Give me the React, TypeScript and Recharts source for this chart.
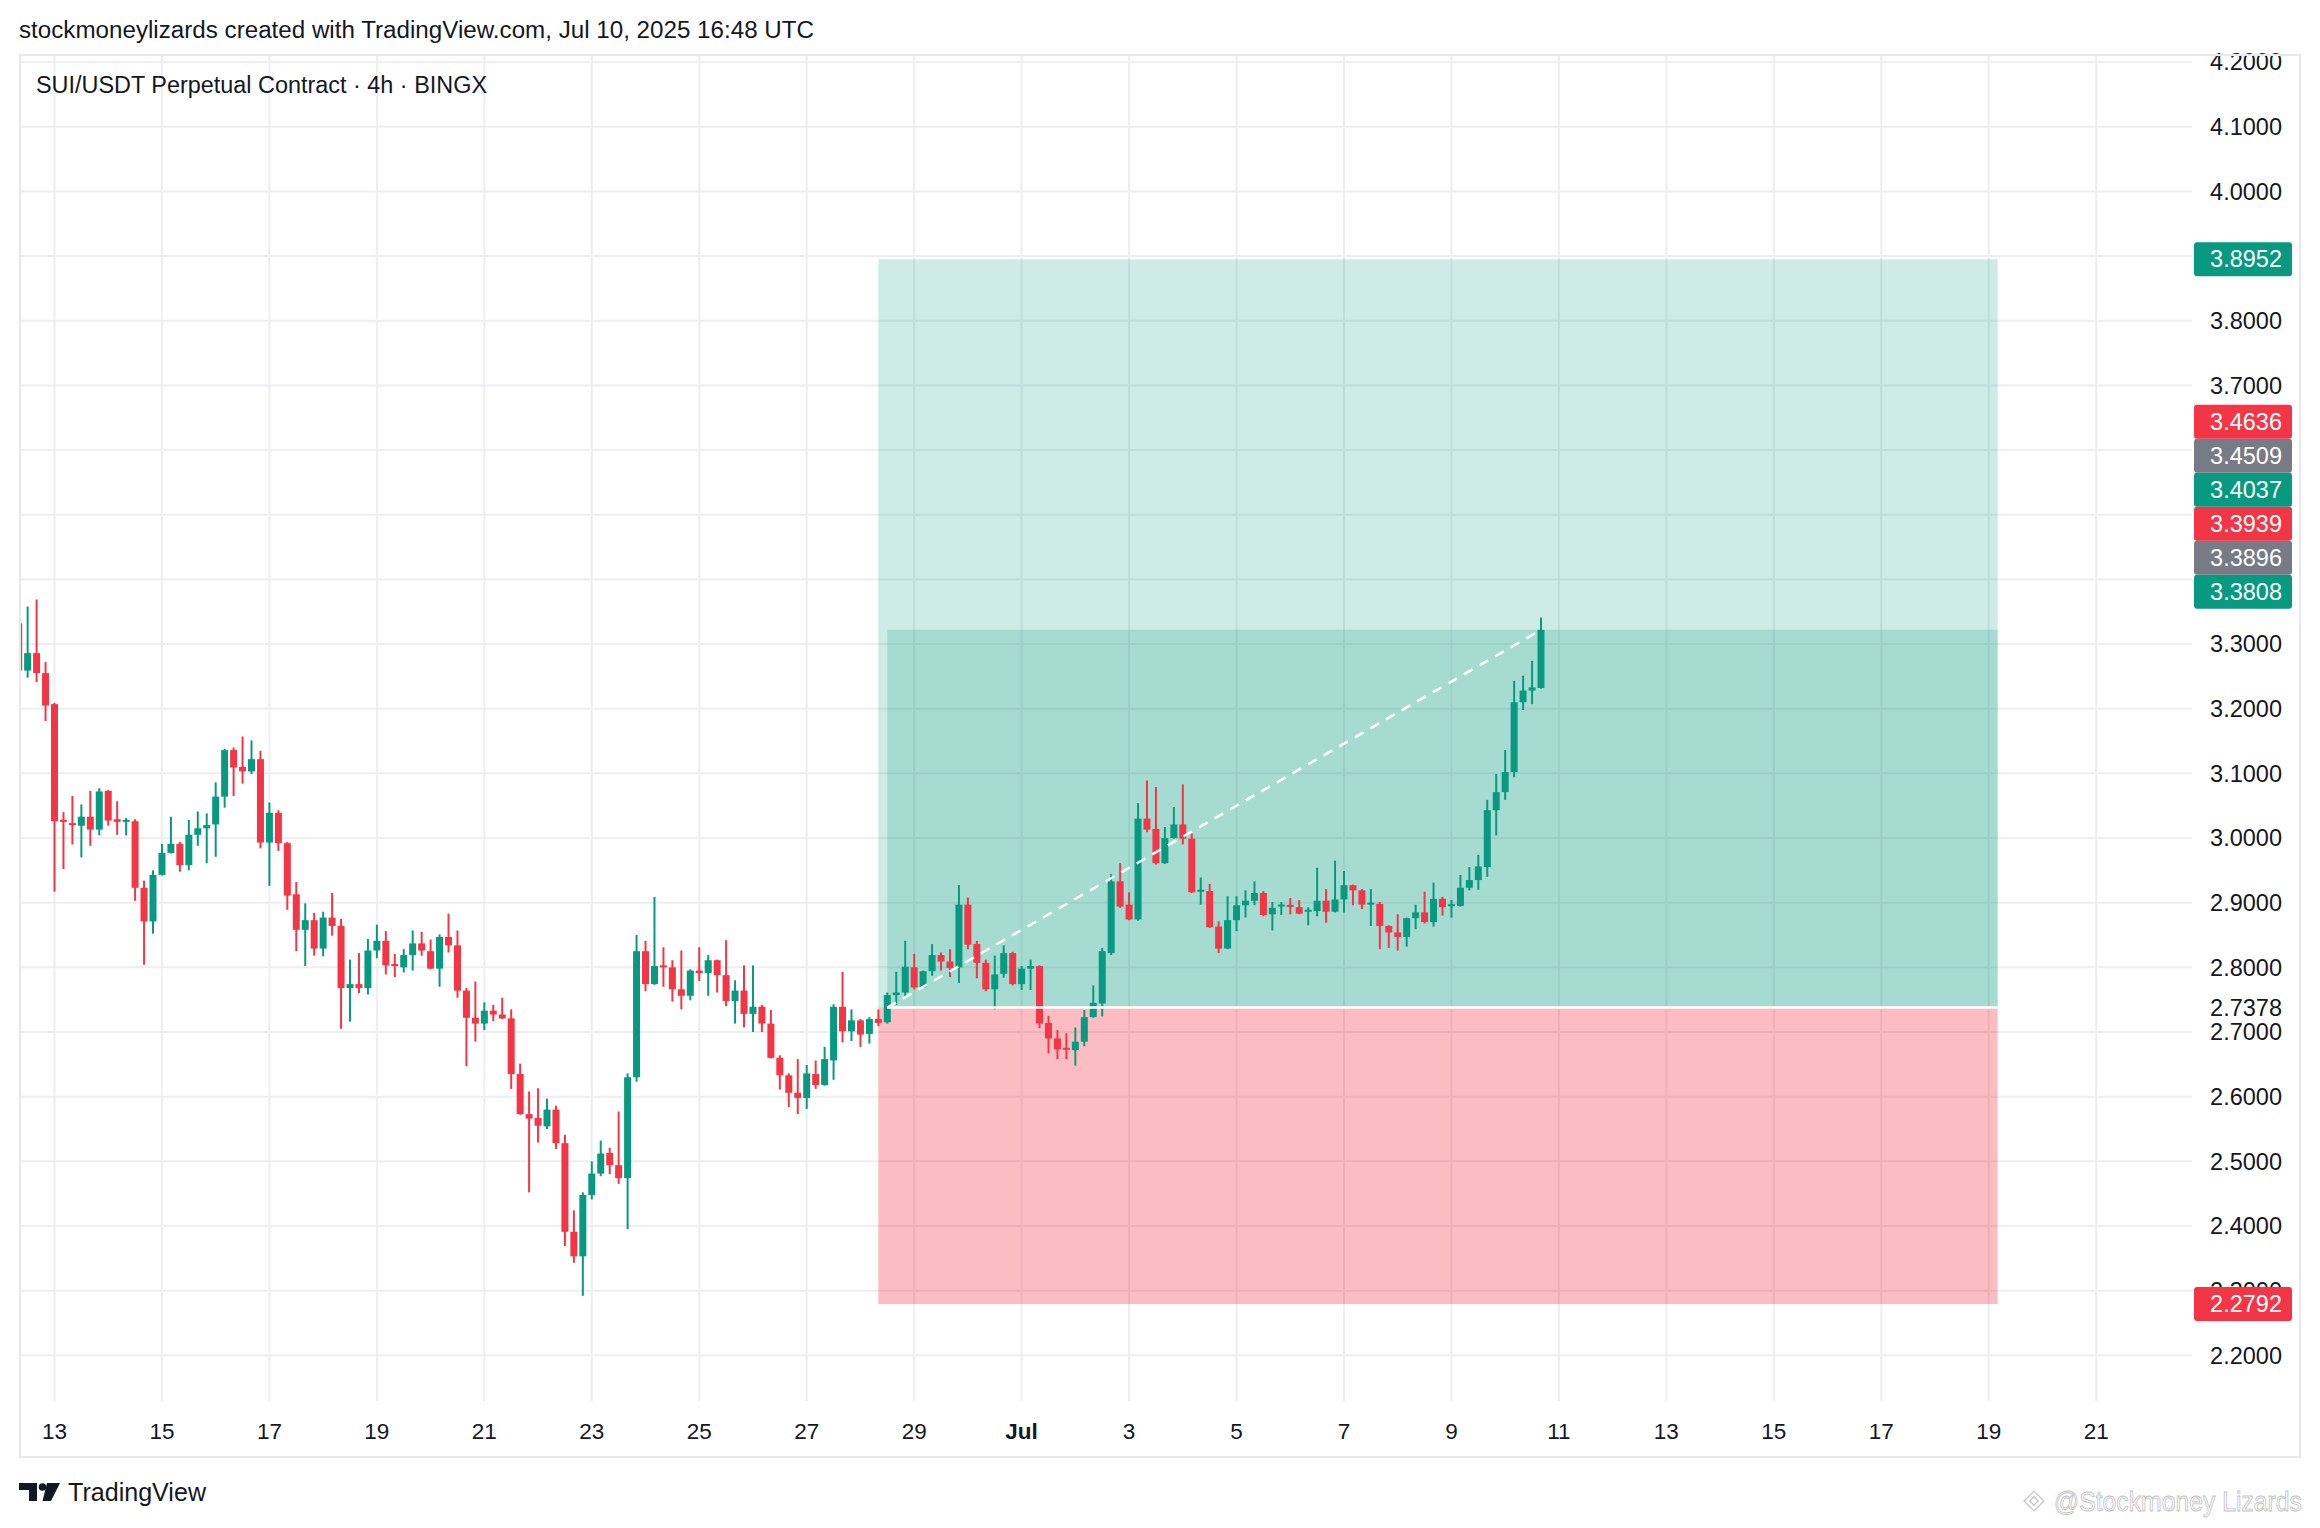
import React from 'react';
import {
  ComposedChart,
  Bar,
  XAxis,
  YAxis,
  CartesianGrid,
  ReferenceArea,
  ReferenceLine,
} from 'recharts';

// ---- 4h candles of SUI/USDT, first candle Jun 12 2025 08:00 UTC, last Jul 10 16:00 UTC ----
const opens = [
  3.332, 3.259, 3.286, 3.255, 3.207, 3.028, 3.023, 3.019, 3.033, 3.013,
  3.073, 3.029, 3.025, 3.026, 2.923, 2.871, 2.943, 2.977, 2.991, 2.958,
  3.005, 3.015, 3.021, 3.064, 3.136, 3.110, 3.103, 3.122, 2.993, 3.039,
  2.992, 2.913, 2.858, 2.873, 2.829, 2.877, 2.864, 2.768, 2.774, 2.768,
  2.826, 2.841, 2.805, 2.800, 2.819, 2.837, 2.825, 2.798, 2.847, 2.834,
  2.764, 2.722, 2.713, 2.733, 2.727, 2.721, 2.635, 2.573, 2.567, 2.554,
  2.580, 2.528, 2.391, 2.353, 2.448, 2.481, 2.513, 2.494, 2.474, 2.630,
  2.825, 2.774, 2.803, 2.800, 2.766, 2.756, 2.795, 2.791, 2.811, 2.788,
  2.748, 2.764, 2.728, 2.739, 2.713, 2.660, 2.633, 2.606, 2.598, 2.635,
  2.618, 2.656, 2.739, 2.701, 2.718, 2.697, 2.720, 2.715, 2.757, 2.761,
  2.800, 2.769, 2.794, 2.819, 2.809, 2.800, 2.897, 2.836, 2.807, 2.766,
  2.790, 2.822, 2.774, 2.798, 2.802, 2.714, 2.690, 2.675, 2.672, 2.685,
  2.723, 2.744, 2.822, 2.933, 2.897, 2.874, 3.030, 3.014, 2.961, 3.000,
  3.021, 2.999, 2.918, 2.918, 2.863, 2.829, 2.873, 2.896, 2.903, 2.915,
  2.882, 2.895, 2.896, 2.893, 2.887, 2.887, 2.903, 2.886, 2.905, 2.927,
  2.919, 2.897, 2.898, 2.864, 2.854, 2.847, 2.876, 2.885, 2.870, 2.906,
  2.895, 2.895, 2.923, 2.935, 2.955, 3.043, 3.071, 3.102, 3.210, 3.228,
  3.232,
];
const highs = [
  3.342, 3.358, 3.369, 3.272, 3.209, 3.040, 3.065, 3.052, 3.073, 3.077,
  3.074, 3.057, 3.031, 3.029, 2.934, 2.950, 2.991, 3.033, 2.994, 3.028,
  3.041, 3.038, 3.086, 3.138, 3.140, 3.157, 3.151, 3.135, 3.055, 3.043,
  2.994, 2.932, 2.899, 2.884, 2.886, 2.915, 2.875, 2.812, 2.822, 2.844,
  2.866, 2.856, 2.821, 2.828, 2.857, 2.855, 2.843, 2.851, 2.883, 2.857,
  2.768, 2.778, 2.746, 2.742, 2.753, 2.735, 2.651, 2.608, 2.613, 2.597,
  2.586, 2.541, 2.424, 2.452, 2.500, 2.532, 2.521, 2.577, 2.636, 2.850,
  2.841, 2.909, 2.831, 2.811, 2.826, 2.797, 2.831, 2.819, 2.812, 2.842,
  2.780, 2.803, 2.803, 2.742, 2.734, 2.664, 2.636, 2.658, 2.649, 2.656,
  2.677, 2.743, 2.793, 2.735, 2.720, 2.723, 2.735, 2.761, 2.793, 2.841,
  2.821, 2.795, 2.836, 2.823, 2.828, 2.927, 2.908, 2.841, 2.812, 2.818,
  2.834, 2.824, 2.802, 2.812, 2.803, 2.725, 2.703, 2.698, 2.707, 2.734,
  2.772, 2.830, 2.944, 2.961, 2.916, 3.054, 3.089, 3.079, 3.017, 3.048,
  3.083, 3.007, 2.939, 2.929, 2.871, 2.910, 2.910, 2.919, 2.933, 2.918,
  2.901, 2.901, 2.907, 2.904, 2.893, 2.954, 2.921, 2.965, 2.949, 2.928,
  2.921, 2.921, 2.901, 2.865, 2.882, 2.877, 2.897, 2.917, 2.931, 2.909,
  2.904, 2.943, 2.955, 2.974, 3.059, 3.099, 3.136, 3.243, 3.251, 3.274,
  3.341,
];
const lows = [
  3.251, 3.248, 3.241, 3.181, 2.917, 2.952, 2.990, 2.970, 2.988, 3.004,
  3.019, 3.005, 3.004, 2.903, 2.804, 2.852, 2.942, 2.976, 2.948, 2.950,
  2.988, 2.961, 2.971, 3.047, 3.065, 3.084, 3.099, 2.984, 2.926, 2.980,
  2.889, 2.825, 2.802, 2.818, 2.817, 2.849, 2.705, 2.716, 2.760, 2.758,
  2.814, 2.789, 2.785, 2.792, 2.795, 2.818, 2.797, 2.770, 2.823, 2.753,
  2.647, 2.685, 2.703, 2.717, 2.720, 2.612, 2.572, 2.452, 2.529, 2.550,
  2.519, 2.369, 2.343, 2.292, 2.441, 2.477, 2.480, 2.465, 2.395, 2.623,
  2.763, 2.773, 2.770, 2.747, 2.735, 2.749, 2.779, 2.756, 2.761, 2.740,
  2.713, 2.707, 2.700, 2.700, 2.659, 2.611, 2.584, 2.573, 2.581, 2.612,
  2.617, 2.626, 2.684, 2.686, 2.677, 2.682, 2.709, 2.713, 2.742, 2.752,
  2.766, 2.768, 2.787, 2.795, 2.785, 2.776, 2.828, 2.783, 2.763, 2.735,
  2.784, 2.772, 2.765, 2.765, 2.706, 2.667, 2.658, 2.658, 2.648, 2.678,
  2.722, 2.724, 2.819, 2.892, 2.873, 2.872, 3.009, 2.959, 2.960, 2.999,
  2.990, 2.915, 2.897, 2.861, 2.822, 2.828, 2.856, 2.877, 2.896, 2.879,
  2.857, 2.881, 2.882, 2.882, 2.865, 2.879, 2.869, 2.885, 2.885, 2.896,
  2.890, 2.864, 2.828, 2.830, 2.826, 2.832, 2.859, 2.868, 2.863, 2.880,
  2.877, 2.894, 2.919, 2.920, 2.940, 3.004, 3.059, 3.094, 3.198, 3.207,
  3.231,
];
const closes = [
  3.259, 3.286, 3.255, 3.205, 3.026, 3.025, 3.020, 3.033, 3.013, 3.072,
  3.027, 3.025, 3.028, 2.923, 2.871, 2.943, 2.977, 2.991, 2.958, 3.005,
  3.015, 3.020, 3.064, 3.136, 3.109, 3.103, 3.122, 2.993, 3.039, 2.992,
  2.911, 2.858, 2.873, 2.829, 2.877, 2.864, 2.768, 2.774, 2.768, 2.826,
  2.841, 2.803, 2.802, 2.819, 2.837, 2.826, 2.798, 2.847, 2.834, 2.764,
  2.722, 2.713, 2.733, 2.727, 2.721, 2.635, 2.573, 2.566, 2.555, 2.580,
  2.528, 2.391, 2.353, 2.448, 2.481, 2.512, 2.494, 2.474, 2.630, 2.825,
  2.774, 2.802, 2.800, 2.766, 2.756, 2.795, 2.791, 2.811, 2.788, 2.748,
  2.764, 2.728, 2.739, 2.713, 2.660, 2.633, 2.606, 2.598, 2.636, 2.618,
  2.658, 2.739, 2.701, 2.718, 2.696, 2.720, 2.714, 2.757, 2.761, 2.801,
  2.769, 2.794, 2.819, 2.809, 2.799, 2.897, 2.835, 2.807, 2.766, 2.789,
  2.822, 2.774, 2.798, 2.802, 2.713, 2.690, 2.673, 2.673, 2.685, 2.723,
  2.745, 2.825, 2.933, 2.894, 2.874, 3.030, 3.013, 2.961, 3.000, 3.021,
  2.999, 2.916, 2.919, 2.862, 2.829, 2.873, 2.896, 2.903, 2.915, 2.881,
  2.892, 2.896, 2.894, 2.883, 2.888, 2.903, 2.886, 2.905, 2.927, 2.919,
  2.897, 2.900, 2.864, 2.854, 2.847, 2.876, 2.885, 2.870, 2.906, 2.893,
  2.897, 2.923, 2.935, 2.956, 3.043, 3.071, 3.102, 3.210, 3.228, 3.233,
  3.322,
];

// x axis: candle index of each labelled midnight (every 2 days) and its label
const dayTickIndex = [4, 16, 28, 40, 52, 64, 76, 88, 100, 112, 124, 136, 148, 160, 172, 184, 196, 208, 220, 232];
const dayTickLabels = ['13', '15', '17', '19', '21', '23', '25', '27', '29', 'Jul', '3', '5', '7', '9', '11', '13', '15', '17', '19', '21'];
// price grid, and the grid values whose labels the price tags cover
const priceTicks = [2.2, 2.3, 2.4, 2.5, 2.6, 2.7, 2.8, 2.9, 3.0, 3.1, 3.2, 3.3, 3.4, 3.5, 3.6, 3.7, 3.8, 3.9, 4.0, 4.1, 4.2];
const coveredPriceTicks = [3.4, 3.5, 3.6, 3.9];

// long position tool
const positionEntry = 2.7378;
const positionTarget = 3.8952;
const positionStop = 2.2792;
const positionStartIndex = 96;
const entryIndex = 97;
const positionEndIndex = 221;
const stackedTagValues = [3.3808, 3.3896, 3.3939, 3.4037, 3.4509, 3.4636];
const stackedTagKinds = ['green', 'gray', 'red', 'green', 'gray', 'red'];

const GREEN = '#089981';
const RED = '#f23645';
const GRAY = '#787b86';
const TEXT = '#131722';
const KIND_COLOR: Record<string, string> = { green: GREEN, red: RED, gray: GRAY };
const FONT = '"Liberation Sans", Arial, sans-serif';
const TAG_H = 34;

const candles = opens.map((o, i) => ({
  i,
  open: o,
  high: highs[i],
  low: lows[i],
  close: closes[i],
  range: [lows[i], highs[i]],
}));
const lastClose = closes[closes.length - 1];

// price-axis tags: anchor value -> the stack of tags drawn upward from it
const tagGroups = [
  { anchor: positionTarget, values: [positionTarget], kinds: ['green'] },
  { anchor: positionEntry, values: [positionEntry], kinds: [''] },
  { anchor: positionStop, values: [positionStop], kinds: ['red'] },
  { anchor: stackedTagValues[0], values: stackedTagValues, kinds: stackedTagKinds },
];
// tags are listed after the plain ticks so they are drawn on top of them
const yAxisTicks = [
  ...priceTicks.filter((t) => !coveredPriceTicks.includes(t)),
  ...tagGroups.map((g) => g.anchor),
];

const CandleShape = (props: any) => {
  const { x, y, width, height, payload } = props;
  if (!payload || x == null || y == null) return null;
  const { open, close, high, low } = payload;
  const top = Math.min(y, y + height);
  const bottom = Math.max(y, y + height);
  const span = high - low || 1;
  const py = (p: number) => top + ((high - p) / span) * (bottom - top);
  const color = close >= open ? GREEN : RED;
  const cx = x + width / 2;
  let bTop = py(Math.max(open, close));
  let bBot = py(Math.min(open, close));
  if (bBot - bTop < 2) {
    const m = (bTop + bBot) / 2;
    bTop = m - 1;
    bBot = m + 1;
  }
  return (
    <g>
      <line x1={cx} x2={cx} y1={top} y2={bottom} stroke={color} strokeWidth={2} />
      <rect x={x} y={bTop} width={width} height={bBot - bTop} fill={color} />
    </g>
  );
};

const XTick = (props: any) => {
  const { x, y, payload } = props;
  const k = dayTickIndex.indexOf(payload.value);
  const label = k >= 0 ? dayTickLabels[k] : '';
  return (
    <text x={x} y={y + 38} textAnchor="middle" fontSize={22.5} fill={TEXT} fontFamily={FONT}
      fontWeight={label === 'Jul' ? 700 : 400}>
      {label}
    </text>
  );
};

const YTick = (props: any) => {
  const { x, y, payload } = props;
  const v = Number(payload.value);
  const group = tagGroups.find((g) => g.anchor === v);
  if (!group) {
    return (
      <text x={x + 90} y={y + 8.3} textAnchor="end" fontSize={23.5} fill={TEXT} fontFamily={FONT}>
        {v.toFixed(4)}
      </text>
    );
  }
  return (
    <g>
      {group.values.map((tv, k) => {
        const cy = y - k * TAG_H;
        const kind = group.kinds[k];
        const color = kind ? KIND_COLOR[kind] : null;
        return (
          <g key={k}>
            {color && <rect x={x + 2} y={cy - TAG_H / 2} width={98} height={TAG_H} rx={3} fill={color} />}
            <text x={x + 90} y={cy + 8.3} textAnchor="end" fontSize={23.5}
              fill={color ? '#ffffff' : TEXT} fontFamily={FONT}>
              {tv.toFixed(4)}
            </text>
          </g>
        );
      })}
    </g>
  );
};

export default function App() {
  return (
    <div style={{ position: 'absolute', left: 0, top: 0, width: 2320, height: 1528, background: '#ffffff', fontFamily: FONT }}>
      <ComposedChart
        width={2320}
        height={1528}
        data={candles}
        margin={{ top: 55, left: 20, right: 20, bottom: 71 }}
      >
        <CartesianGrid stroke="#eeeef1" strokeWidth={2} horizontalValues={priceTicks} verticalValues={dayTickIndex} />
        <XAxis
          dataKey="i"
          type="number"
          domain={[0.15, 242.7]}
          ticks={dayTickIndex}
          allowDataOverflow
          axisLine={false}
          tickLine={false}
          tickSize={0}
          tickMargin={0}
          height={56}
          interval={0}
          tick={<XTick />}
        />
        <YAxis
          orientation="right"
          type="number"
          domain={[2.1293, 4.211]}
          ticks={yAxisTicks}
          allowDataOverflow
          axisLine={false}
          tickLine={false}
          tickSize={0}
          tickMargin={0}
          width={108}
          interval={0}
          tick={<YTick />}
        />
        <ReferenceArea x1={positionStartIndex} x2={positionEndIndex} y1={positionEntry} y2={positionTarget}
          fill="rgb(8,153,129)" fillOpacity={0.2} stroke="none" />
        <ReferenceArea x1={positionStartIndex} x2={positionEndIndex} y1={positionStop} y2={positionEntry}
          fill="rgb(242,54,69)" fillOpacity={0.33} stroke="none" />
        <ReferenceArea x1={entryIndex} x2={positionEndIndex} y1={positionEntry} y2={lastClose}
          fill="rgb(8,153,129)" fillOpacity={0.2} stroke="none" />
        <ReferenceLine
          segment={[{ x: entryIndex, y: positionEntry }, { x: positionEndIndex, y: positionEntry }]}
          stroke="#ffffff" strokeWidth={2.5}
        />
        <Bar dataKey="range" shape={CandleShape} barSize={7} isAnimationActive={false} />
        <ReferenceLine
          segment={[{ x: entryIndex, y: positionEntry }, { x: candles.length - 1, y: lastClose }]}
          stroke="#ffffff" strokeWidth={2.5} strokeDasharray="10 8"
        />
      </ComposedChart>
      <svg width={2320} height={1528} style={{ position: 'absolute', left: 0, top: 0, pointerEvents: 'none' }}>
        <rect x={20} y={55} width={2280} height={1402} fill="none" stroke="#e6e8ec" strokeWidth={2} />
        <text x={19} y={38} fontSize={23} fill={TEXT} fontFamily={FONT} textLength={795} lengthAdjust="spacingAndGlyphs">
          stockmoneylizards created with TradingView.com, Jul 10, 2025 16:48 UTC
        </text>
        <text x={36} y={92.5} fontSize={23} fill={TEXT} fontFamily={FONT} textLength={451} lengthAdjust="spacingAndGlyphs">
          SUI/USDT Perpetual Contract · 4h · BINGX
        </text>
        <g fill={TEXT}>
          <path d="M19 1483 H37 V1501 H29 V1490 H19 Z" />
          <circle cx={42.5} cy={1487} r={3.8} />
          <path d="M47 1483 H60 L51 1501 H42.5 Z" />
        </g>
        <text x={68} y={1501} fontSize={26} fill={TEXT} fontFamily={FONT} textLength={138} lengthAdjust="spacingAndGlyphs">
          TradingView
        </text>
        <g fill="none" stroke="#c6c6c6" strokeWidth={1.3}>
          <rect x={2027} y={1494} width={14} height={14} transform="rotate(45 2034 1501)" />
          <rect x={2031} y={1498} width={6} height={6} transform="rotate(45 2034 1501)" />
        </g>
        <text x={2054} y={1511} fontSize={28} fill="#ffffff" stroke="#c3c3c3" strokeWidth={0.9} fontFamily={FONT}
          textLength={248} lengthAdjust="spacingAndGlyphs">
          @Stockmoney Lizards
        </text>
      </svg>
    </div>
  );
}
